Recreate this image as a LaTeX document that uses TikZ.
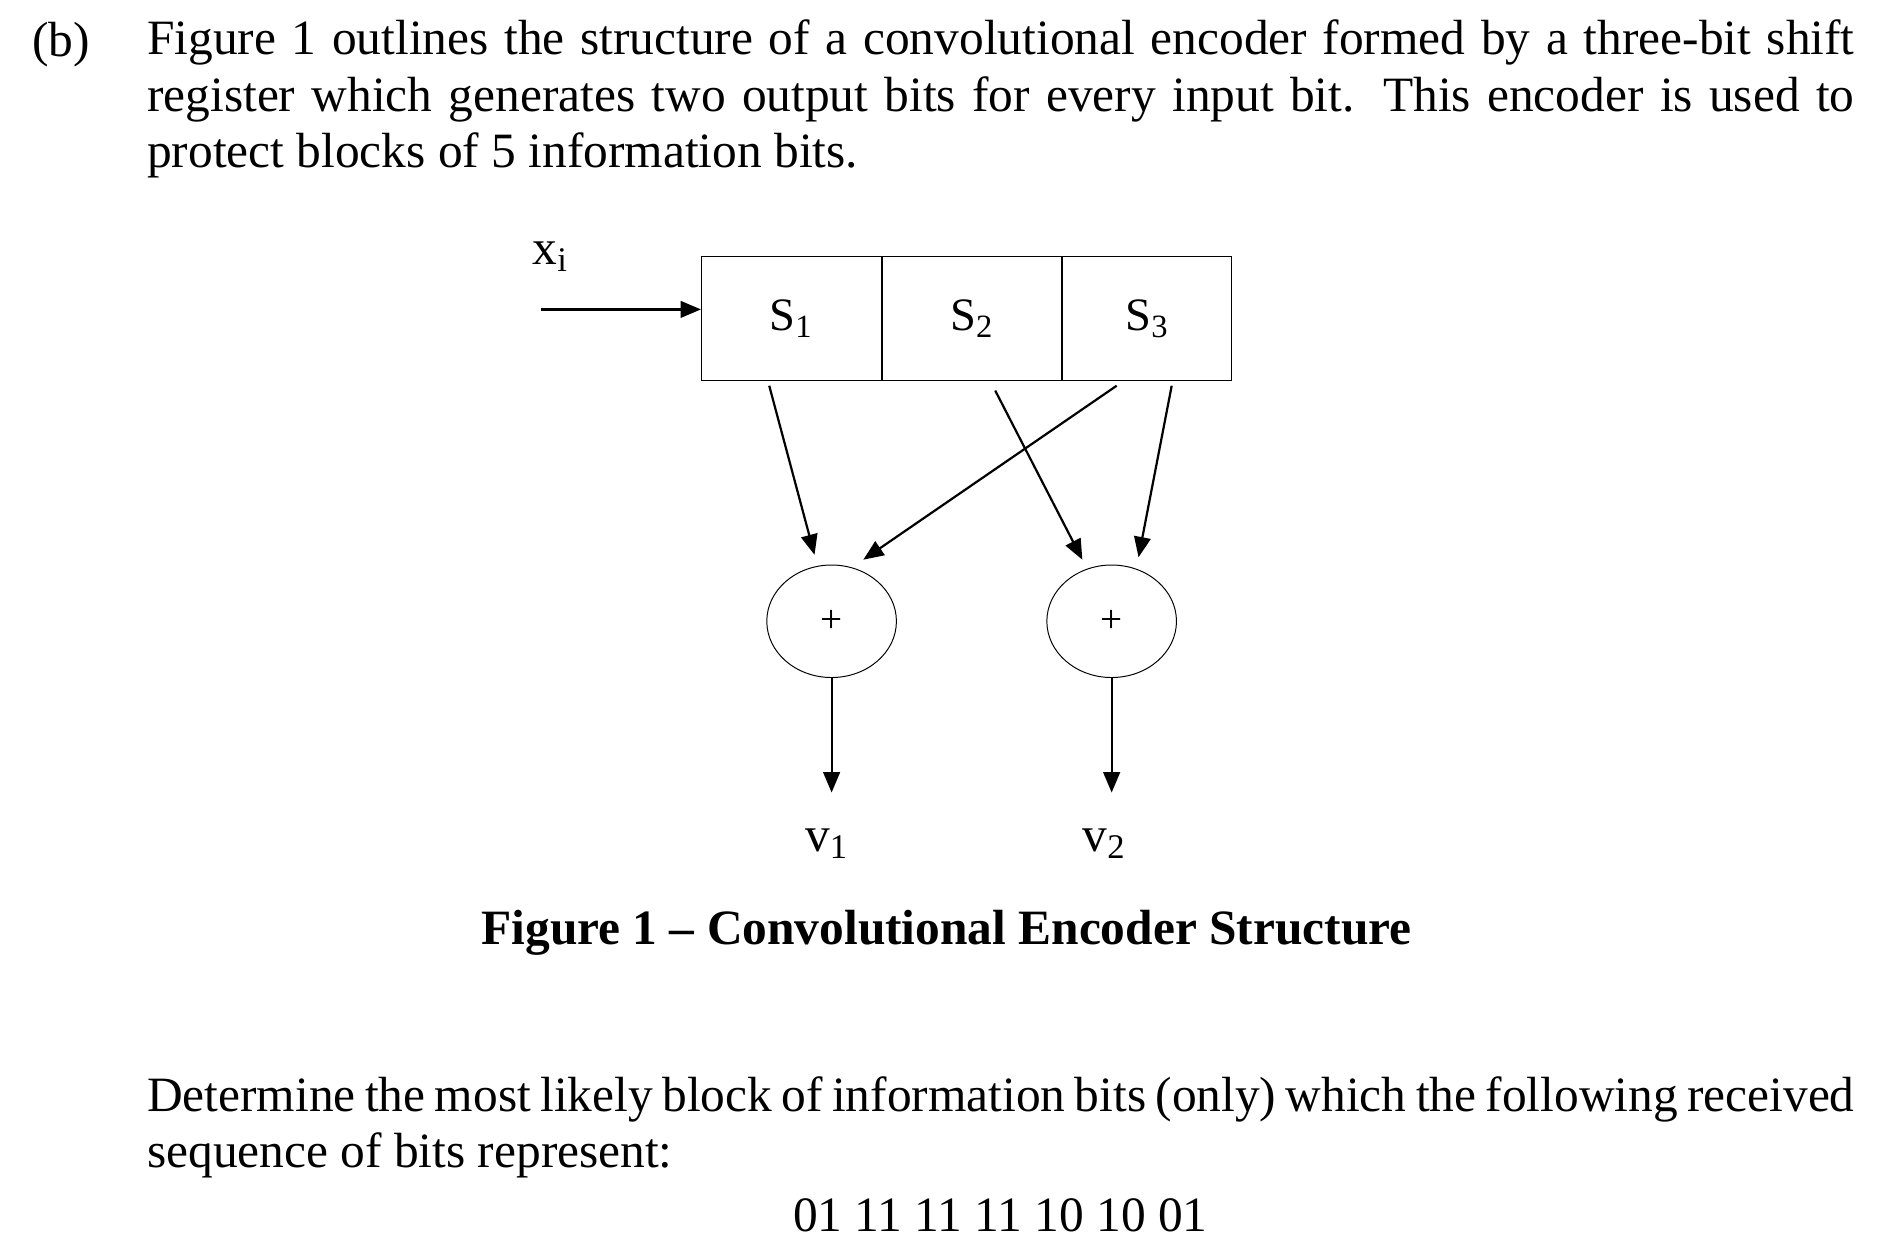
\documentclass[tikz,border=0pt]{standalone}
\usepackage{fontspec}
\setmainfont{Liberation Serif}
\usetikzlibrary{shapes,arrows,positioning,calc}
\begin{document}
\begin{tikzpicture}[x=0.5pt, y=-0.5pt, >=triangle 45]
\tikzset{
txt/.style   = {inner sep=0pt, font=\fontsize{20.2}{23}\selectfont},
para/.style  = {txt, anchor=north west, text width=698pt, align=justify},
cell/.style  = {draw, shape=rectangle, minimum width=73.5pt, minimum height=50.5pt, inner sep=0pt, font=\fontsize{19}{20}\selectfont},
adder/.style = {draw, shape=ellipse, minimum width=53pt, minimum height=46pt, inner sep=0pt, font=\fontsize{16}{16}\selectfont},
wire/.style  = {->, line width=0.9pt},
}
    \useasboundingbox (0,0) rectangle (1552,1029);
    % Text
    \node [txt, anchor=north west] (part) at (26,18) {(b)};
    \node [para] (intro) at (120,16) {\hyphenpenalty=10000 Figure 1 outlines the structure of a convolutional encoder formed by a three-bit shift register which generates two output bits for every input bit. This encoder is used to protect blocks of 5 information bits.};

    % Register
    \node [cell] (s1) at (647,260.5) {S\textsubscript{1}};
    \node [cell, right=0pt of s1] (s2) {S\textsubscript{2}};
    \node [cell, right=0pt of s2, minimum width=69pt] (s3) {S\textsubscript{3}};
    \node [txt] (xi) at (450,210) {x\textsubscript{i}};
    \coordinate (in) at (442,253);

    % Adders
    \node [adder] (add1) at (680,508) {+};
    \node [adder] (add2) at (909,508) {+};
    \node [txt] (v1) at (676,690) {v\textsubscript{1}};
    \node [txt] (v2) at (903,690) {v\textsubscript{2}};
    \coordinate (o1) at (680,648);
    \coordinate (o2) at (909,648);

    % Edges
    \draw [wire] (in) -- (in -| s1.west);
    \draw [wire] ($(s1.south)+(-18,4)$) -- ($(add1.north)+(-14,-8)$);
    \draw [wire] ($(s3.south)+(-25,4)$) -- ($(add1.north)+(26,-4)$);
    \draw [wire] ($(s2.south)+(19,8)$) -- ($(add2.north)+(-24,-4)$);
    \draw [wire] ($(s3.south)+(20,4)$) -- ($(add2.north)+(22,-6)$);
    \draw [wire] (add1.south) -- (o1);
    \draw [wire] (add2.south) -- (o2);

    % Caption and question
    \node [txt, font=\fontsize{20.2}{23}\selectfont\bfseries] (caption) at (774,763) {Figure 1 -- Convolutional Encoder Structure};
    \node [para] (question) at (120,880) {\hyphenpenalty=10000 Determine the most likely block of information bits (only) which the following received sequence of bits represent:};
    \node [txt] (seq) at (818,994) {01 11 11 11 10 10 01};
\end{tikzpicture}
\end{document}
